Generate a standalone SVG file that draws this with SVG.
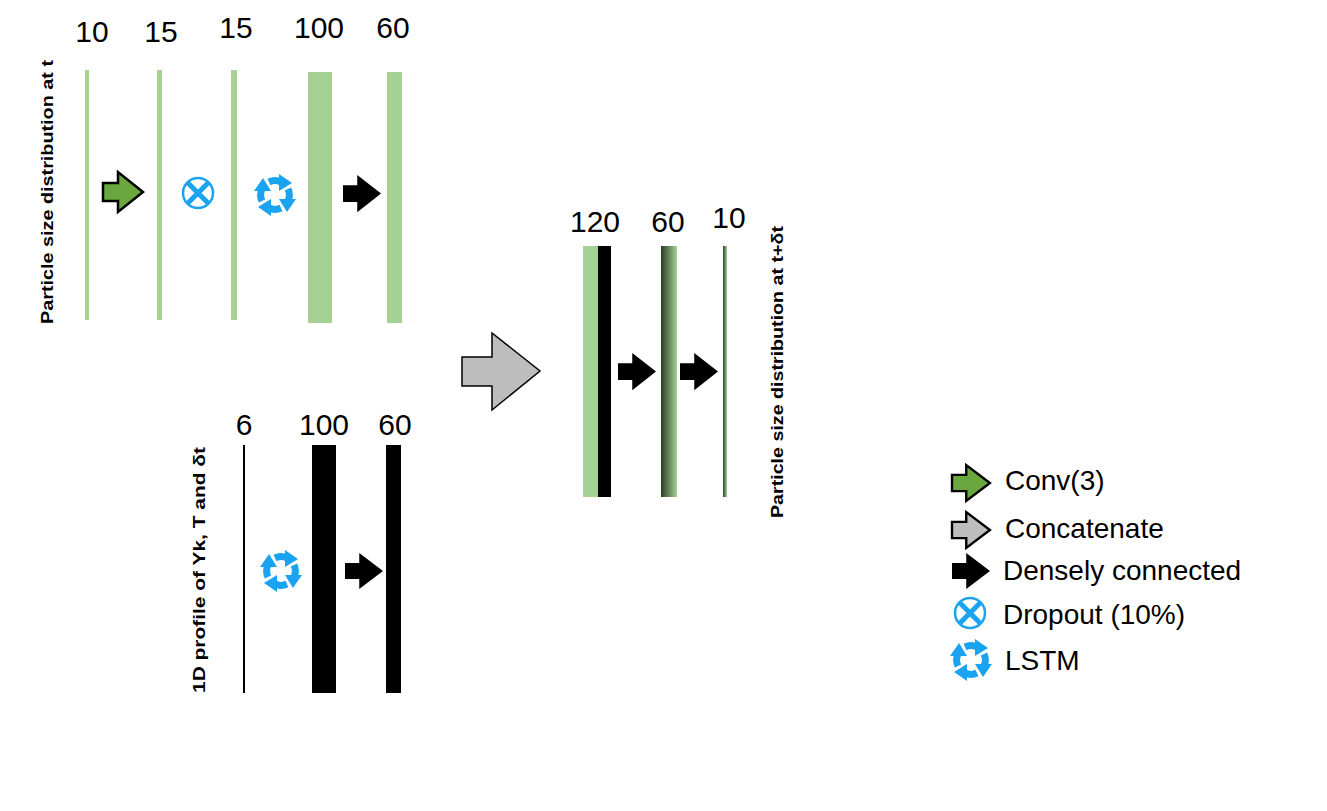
<svg xmlns="http://www.w3.org/2000/svg" width="1327" height="811" viewBox="0 0 1327 811">
<style>
.lbl{font-family:"Liberation Sans",Arial,sans-serif;font-size:30px;fill:#000;text-anchor:middle}
.leg{font-family:"Liberation Sans",Arial,sans-serif;font-size:28px;fill:#000}
.vt{font-family:"Liberation Sans",Arial,sans-serif;font-size:17px;font-weight:bold;fill:#000;text-anchor:middle}
.g{fill:#a5d194}
.k{fill:#000}
.ls{fill:none;stroke:#1aa3f0;stroke-width:7}
.lh{fill:#1aa3f0}
</style>
<defs>
<path id="arr" d="M0,11 H15 V0 L40,20 L15,40 V29 H0 Z"/>
<linearGradient id="gr" x1="0" x2="1" y1="0" y2="0"><stop offset="0" stop-color="#2d3d27"/><stop offset="1" stop-color="#a5d194"/></linearGradient>
<g id="drop"><circle r="15" fill="#fff" stroke="#1aa3f0" stroke-width="2.5"/><path d="M-10,-10 L10,10 M10,-10 L-10,10" stroke="#1aa3f0" stroke-width="5"/></g>
<g id="lstm">
<path class="ls" d="M-6,-13 A14,14 0 0 1 6,-13"/><path class="lh" d="M4,-21 L17,-12 L4,-4 Z"/>
<path class="ls" d="M13,-6 A14,14 0 0 1 13,6"/><path class="lh" d="M21,4 L12,17 L4,4 Z"/>
<path class="ls" d="M6,13 A14,14 0 0 1 -6,13"/><path class="lh" d="M-4,21 L-17,12 L-4,4 Z"/>
<path class="ls" d="M-13,6 A14,14 0 0 1 -13,-6"/><path class="lh" d="M-21,-4 L-12,-17 L-4,-4 Z"/>
</g>
</defs>
<rect width="1327" height="811" fill="#fff"/>
<g id="top-branch">
<rect class="g" x="85" y="70" width="4" height="250"/>
<rect class="g" x="157" y="70" width="5" height="250"/>
<rect class="g" x="231" y="70" width="6" height="250"/>
<rect class="g" x="308" y="72" width="24" height="251"/>
<rect class="g" x="387" y="72" width="15" height="251"/>
<text class="lbl" x="92" y="42">10</text>
<text class="lbl" x="161" y="42">15</text>
<text class="lbl" x="236" y="38">15</text>
<text class="lbl" x="319" y="38">100</text>
<text class="lbl" x="393" y="38">60</text>
<text class="vt" transform="translate(53,192) rotate(-90)" textLength="264" lengthAdjust="spacingAndGlyphs">Particle size distribution at t</text>
</g>
<g id="bottom-branch">
<rect class="k" x="243" y="445" width="2" height="248"/>
<rect class="k" x="312" y="445" width="24" height="248"/>
<rect class="k" x="386" y="445" width="15" height="248"/>
<text class="lbl" x="244" y="435">6</text>
<text class="lbl" x="324" y="435">100</text>
<text class="lbl" x="395" y="435">60</text>
<text class="vt" transform="translate(205,570) rotate(-90)" textLength="246" lengthAdjust="spacingAndGlyphs">1D profile of Yk, T and δt</text>
</g>
<g id="output">
<rect class="g" x="583" y="246" width="15" height="251"/>
<rect class="k" x="598" y="246" width="13" height="251"/>
<rect fill="url(#gr)" x="661" y="246" width="16" height="251"/>
<rect fill="url(#gr)" x="723" y="246" width="4" height="251"/>
<text class="lbl" x="595" y="232">120</text>
<text class="lbl" x="668" y="232">60</text>
<text class="lbl" x="729" y="228">10</text>
<text class="vt" transform="translate(783,372) rotate(-90)" textLength="292" lengthAdjust="spacingAndGlyphs">Particle size distribution at t+δt</text>
</g>
<g id="connectors">
<use href="#arr" transform="translate(103,172)" fill="#6aa83f" stroke="#000" stroke-width="2.5"/>
<use href="#drop" x="198" y="193"/>
<use href="#lstm" x="275" y="195"/>
<use href="#arr" transform="translate(343,175) scale(0.95,0.93)" fill="#000"/>
<use href="#lstm" x="281" y="571"/>
<use href="#arr" transform="translate(345,553) scale(0.95,0.9)" fill="#000"/>
<path d="M462,357 H492 V333 L540,371 L492,410 V386 H462 Z" fill="#bdbdbd" stroke="#000" stroke-width="1.5"/>
<use href="#arr" transform="translate(618,353) scale(0.95,0.93)" fill="#000"/>
<use href="#arr" transform="translate(680,353) scale(0.95,0.93)" fill="#000"/>
</g>
<g id="legend">
<use href="#arr" transform="translate(952,465) scale(0.95,0.9)" fill="#6aa83f" stroke="#000" stroke-width="2.5"/>
<text class="leg" x="1005" y="490">Conv(3)</text>
<use href="#arr" transform="translate(952,512) scale(0.95,0.9)" fill="#bdbdbd" stroke="#000" stroke-width="2.5"/>
<text class="leg" x="1005" y="538">Concatenate</text>
<use href="#arr" transform="translate(952,553) scale(0.95,0.9)" fill="#000"/>
<text class="leg" x="1003" y="580">Densely connected</text>
<use href="#drop" x="970" y="613"/>
<text class="leg" x="1003" y="624">Dropout (10%)</text>
<use href="#lstm" x="971" y="660"/>
<text class="leg" x="1005" y="670">LSTM</text>
</g>
</svg>
